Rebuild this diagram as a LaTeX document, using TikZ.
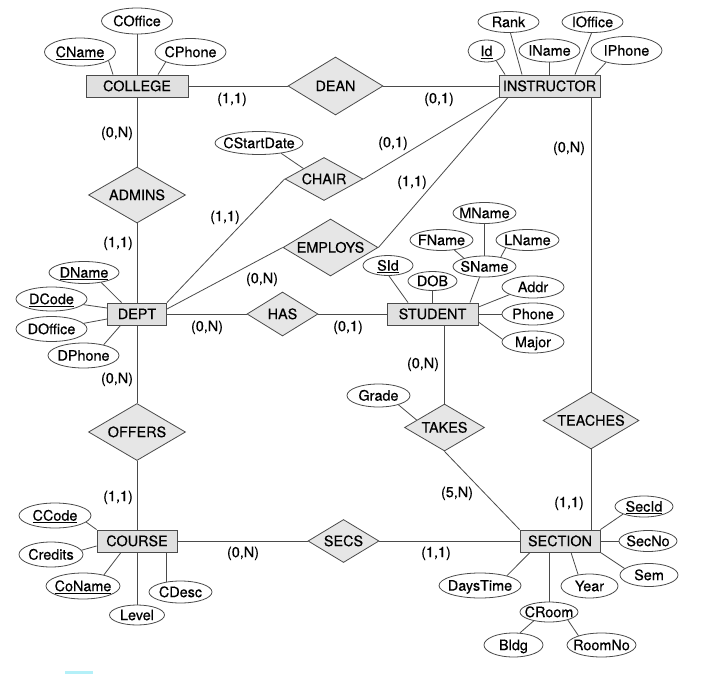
\documentclass[tikz,border=0pt]{standalone}
\usepackage{fontspec}
\setmainfont{TeX Gyre Heros}[FakeBold=0.35]
\usetikzlibrary{shapes.geometric}
\definecolor{efill}{HTML}{E0E0E0}
\definecolor{rfill}{HTML}{E6E6E6}
\definecolor{lcol}{HTML}{4A4A4A}
\definecolor{cyanmark}{HTML}{B4F0F8}
\newcommand{\zb}[1]{\makebox[0pt]{#1}}
\begin{document}
\begin{tikzpicture}[x=1pt,y=-1pt,
  font=\fontsize{14.4}{16}\selectfont,
  every node/.style={text height=10.3pt, text depth=0pt},
  ent/.style={draw=lcol, fill=efill, line width=0.9pt, rectangle, inner sep=0pt, minimum height=22pt},
  rel/.style={draw=lcol, fill=rfill, diamond, aspect=1.7, inner sep=0pt, line width=0.8pt},
  att/.style={draw=lcol, fill=white, ellipse, inner sep=0pt, line width=0.8pt},
  card/.style={inner sep=0pt},
  conn/.style={draw=lcol, line width=0.8pt}]
\useasboundingbox (0,0) rectangle (706,674);
\fill[white] (0,0) rectangle (706,674);

% entities
\node[ent, minimum width=102pt] (COLLEGE) at (137,86) {COLLEGE};
\node[ent, minimum width=101pt] (INSTRUCTOR) at (549.5,86) {INSTRUCTOR};
\node[ent, minimum width=59pt] (DEPT) at (137,314) {DEPT};
\node[ent, minimum width=91pt] (STUDENT) at (432.5,314) {STUDENT};
\node[ent, minimum width=80pt] (COURSE) at (137,541) {COURSE};
\node[ent, minimum width=80pt] (SECTION) at (560,541) {SECTION};

% relationships
\node[rel, minimum width=95pt, minimum height=58pt] (DEAN) at (335.5,86) {DEAN};
\node[rel, minimum width=78pt, minimum height=43pt] (CHAIR) at (324,179) {CHAIR};
\node[rel, minimum width=97pt, minimum height=56pt] (ADMINS) at (137,195) {ADMINS};
\node[rel, minimum width=95pt, minimum height=57pt] (EMPLOYS) at (330.5,247.5) {EMPLOYS};
\node[rel, minimum width=71pt, minimum height=44pt] (HAS) at (282.5,314) {HAS};
\node[rel, minimum width=97pt, minimum height=57pt] (OFFERS) at (137,432) {OFFERS};
\node[rel, minimum width=80pt, minimum height=47pt] (TAKES) at (444.5,427.5) {TAKES};
\node[rel, minimum width=96pt, minimum height=57pt] (TEACHES) at (591,420.5) {TEACHES};
\node[rel, minimum width=71pt, minimum height=43pt] (SECS) at (343.5,541) {SECS};

% attributes
\node[att, minimum width=71pt, minimum height=26pt] (COffice) at (137,21) {\zb{COffice}};
\node[att, minimum width=71pt, minimum height=28pt] (CName) at (80,52) {\zb{\underline{CName}}};
\node[att, minimum width=71pt, minimum height=27pt] (CPhone) at (190.5,52) {\zb{CPhone}};
\node[att, minimum width=88pt, minimum height=23pt] (CStartDate) at (259,143) {\zb{CStartDate}};
\node[att, minimum width=61pt, minimum height=21pt] (Rank) at (508.5,22) {\zb{Rank}};
\node[att, minimum width=61pt, minimum height=21pt] (IOffice) at (592.5,22) {\zb{IOffice}};
\node[att, minimum width=37pt, minimum height=22pt] (Id) at (486.5,51) {\zb{\underline{Id}}};
\node[att, minimum width=61pt, minimum height=23pt] (IName) at (549.5,50.5) {\zb{IName}};
\node[att, minimum width=71pt, minimum height=28pt] (IPhone) at (626.5,50.5) {\zb{IPhone}};
\node[att, minimum width=70pt, minimum height=22pt] (DName) at (84,272.5) {\zb{\underline{DName}}};
\node[att, minimum width=71pt, minimum height=24pt] (DCode) at (51.5,299) {\zb{\underline{DCode}}};
\node[att, minimum width=71pt, minimum height=25pt] (DOffice) at (51.5,329) {\zb{DOffice}};
\node[att, minimum width=71pt, minimum height=25pt] (DPhone) at (83.5,355.5) {\zb{DPhone}};
\node[att, minimum width=63pt, minimum height=21pt] (MName) at (484.5,213) {\zb{MName}};
\node[att, minimum width=63pt, minimum height=21pt] (FName) at (441.5,240) {\zb{FName}};
\node[att, minimum width=63pt, minimum height=21pt] (LName) at (527.5,240) {\zb{LName}};
\node[att, minimum width=63pt, minimum height=21pt] (SName) at (484.5,266.5) {\zb{SName}};
\node[att, minimum width=50pt, minimum height=20pt] (SId) at (388,265.5) {\zb{\underline{SId}}};
\node[att, minimum width=49pt, minimum height=19pt] (DOB) at (432.5,281) {\zb{DOB}};
\node[att, minimum width=62pt, minimum height=22pt] (Addr) at (533,287) {\zb{Addr}};
\node[att, minimum width=62pt, minimum height=22pt] (Phone) at (533,314) {\zb{Phone}};
\node[att, minimum width=62pt, minimum height=22pt] (Major) at (533,342) {\zb{Major}};
\node[att, minimum width=63pt, minimum height=23pt] (Grade) at (378.5,395.5) {\zb{Grade}};
\node[att, minimum width=58pt, minimum height=21pt] (SecId) at (644,506.5) {\zb{\underline{SecId}}};
\node[att, minimum width=58pt, minimum height=21pt] (SecNo) at (648,541) {\zb{SecNo}};
\node[att, minimum width=58pt, minimum height=23pt] (Sem) at (649,575) {\zb{Sem}};
\node[att, minimum width=57pt, minimum height=24pt] (Year) at (589.5,586) {\zb{Year}};
\node[att, minimum width=82pt, minimum height=25pt] (DaysTime) at (480,585.5) {\zb{DaysTime}};
\node[att, minimum width=58pt, minimum height=20pt] (CRoom) at (549,612) {\zb{CRoom}};
\node[att, minimum width=59pt, minimum height=24pt] (Bldg) at (513.5,645) {\zb{Bldg}};
\node[att, minimum width=69pt, minimum height=24pt] (RoomNo) at (601.5,645) {\zb{RoomNo}};
\node[att, minimum width=72pt, minimum height=25pt] (CCode) at (55,515.5) {\zb{\underline{CCode}}};
\node[att, minimum width=64pt, minimum height=25pt] (Credits) at (51,554.5) {\zb{Credits}};
\node[att, minimum width=74pt, minimum height=26pt] (CoName) at (83,586) {\zb{\underline{CoName}}};
\node[att, minimum width=55pt, minimum height=20pt] (Level) at (137,615) {\zb{Level}};
\node[att, minimum width=63pt, minimum height=22pt] (CDesc) at (180.5,592) {\zb{CDesc}};

% relationship connectors
\draw[conn] (COLLEGE) -- (DEAN);
\draw[conn] (DEAN) -- (INSTRUCTOR);
\draw[conn] (COLLEGE) -- (ADMINS);
\draw[conn] (ADMINS) -- (DEPT);
\draw[conn] (DEPT) -- (OFFERS);
\draw[conn] (OFFERS) -- (COURSE);
\draw[conn] (DEPT) -- (HAS);
\draw[conn] (HAS) -- (STUDENT);
\draw[conn] (COURSE) -- (SECS);
\draw[conn] (SECS) -- (SECTION);
\draw[conn] (DEPT.north east) -- (CHAIR.west);
\draw[conn] (CHAIR.east) -- (INSTRUCTOR.south west);
\draw[conn] ([yshift=5]DEPT.east) -- (EMPLOYS.west);
\draw[conn] (EMPLOYS.east) -- ([xshift=-41.5]INSTRUCTOR.south);
\draw[conn] ([xshift=41.5]INSTRUCTOR.south) -- (TEACHES.north);
\draw[conn] (TEACHES.south) -- (TEACHES.south |- SECTION.north);
\draw[conn] (TAKES.north) -- (TAKES.north |- STUDENT.south);
\draw[conn] (TAKES.south) -- (SECTION.north west);
\draw[conn] (CStartDate.-25) -- (CHAIR.153);
\draw[conn] (Grade.-25) -- (TAKES.165);

% attribute connectors
\draw[conn] (COffice) -- (COLLEGE);
\draw[conn] (CName.-17) -- ([xshift=-24]COLLEGE.north);
\draw[conn] (CPhone.-158) -- ([xshift=21]COLLEGE.north);
\draw[conn] (Id.-45) -- ([xshift=-44.5]INSTRUCTOR.north);
\draw[conn] (Rank.-80) -- ([xshift=-27.5]INSTRUCTOR.north);
\draw[conn] (IName) -- (INSTRUCTOR);
\draw[conn] (IOffice.-95) -- ([xshift=25.5]INSTRUCTOR.north);
\draw[conn] (IPhone.-150) -- ([xshift=45.5]INSTRUCTOR.north);
\draw[conn] (DName.-30) -- ([xshift=-15.5]DEPT.north);
\draw[conn] (DCode.-10) -- ([yshift=6]DEPT.west);
\draw[conn] (DOffice.10) -- ([yshift=-5]DEPT.west);
\draw[conn] (DPhone.28) -- ([xshift=-16.5]DEPT.south);
\draw[conn] (SId.-85) -- ([xshift=-24.5]STUDENT.north);
\draw[conn] (DOB) -- (STUDENT);
\draw[conn] (SName.-115) -- ([xshift=37.5]STUDENT.north);
\draw[conn] (Addr.-162) -- ([yshift=7]STUDENT.east);
\draw[conn] (Phone) -- (STUDENT);
\draw[conn] (Major.175) -- ([yshift=-8]STUDENT.east);
\draw[conn] (MName) -- (SName);
\draw[conn] (FName.-38) -- (SName.158);
\draw[conn] (LName.-160) -- (SName.30);
\draw[conn] (SecId.-160) -- (SECTION.north east);
\draw[conn] (SecNo) -- (SECTION);
\draw[conn] (Sem.165) -- (SECTION.south east);
\draw[conn] (Year.135) -- ([xshift=11]SECTION.south);
\draw[conn] (DaysTime.20) -- ([xshift=-30]SECTION.south);
\draw[conn] (CRoom.north) -- (CRoom.north |- SECTION.south);
\draw[conn] (Bldg.62) -- (CRoom.-150);
\draw[conn] (RoomNo.158) -- (CRoom.-23);
\draw[conn] (CCode.-12) -- (COURSE.north west);
\draw[conn] (Credits.8) -- ([yshift=-5]COURSE.west);
\draw[conn] (CoName.28) -- ([xshift=-16]COURSE.south);
\draw[conn] (Level) -- (COURSE);
\draw[conn] (CDesc.144) -- (CDesc.144 |- COURSE.south);

% cardinalities
\node[card] (k1) at (232,98) {(1,1)};
\node[card] (k2) at (439,98) {(0,1)};
\node[card] (k3) at (117,132) {(0,N)};
\node[card] (k4) at (118,242) {(1,1)};
\node[card] (k5) at (225,216) {(1,1)};
\node[card] (k6) at (393,142) {(0,1)};
\node[card] (k7) at (412,181) {(1,1)};
\node[card] (k8) at (262,278) {(0,N)};
\node[card] (k9) at (207,326) {(0,N)};
\node[card] (k10) at (348,326) {(0,1)};
\node[card] (k11) at (117,378) {(0,N)};
\node[card] (k12) at (423,363) {(0,N)};
\node[card] (k13) at (569,147) {(0,N)};
\node[card] (k14) at (118,496) {(1,1)};
\node[card] (k15) at (243,552) {(0,N)};
\node[card] (k16) at (436,552) {(1,1)};
\node[card] (k17) at (457,492) {(5,N)};
\node[card] (k18) at (569,502) {(1,1)};

\fill[cyanmark] (65,671) rectangle (93,674);
\end{tikzpicture}
\end{document}
